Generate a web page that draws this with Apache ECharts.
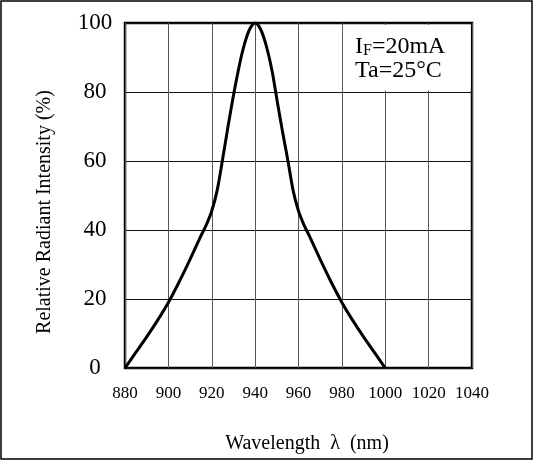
<!DOCTYPE html>
<html>
<head>
<meta charset="utf-8">
<script src="https://cdn.jsdelivr.net/npm/echarts@6/dist/echarts.min.js"></script>
<style>
    html, body { margin: 0; padding: 0; background: #fff; }
    #chart { width: 535px; height: 462px; }
</style>
</head>
<body>
<div id="chart"></div>
<script>
// 数据: 波长 (nm) 与相对辐射强度 (%)
var wavelength = [880, 885, 890, 895, 900, 905, 910, 915, 917.5, 920, 922.5, 925, 927.5, 930, 932, 934, 936, 938, 940,
    942, 944, 946, 948, 950, 952.5, 955, 957.5, 960, 962.5, 965, 970, 975, 980, 985, 990, 995, 1000];
var intensity = [0, 4.5, 9, 13.8, 19, 25, 31.5, 38.3, 41.5, 45.5, 51.5, 60.5, 70, 79, 85.5, 91.3, 95.8, 98.8, 100,
    98.8, 95.8, 91.3, 85.5, 78, 69, 60.5, 51.5, 45.5, 41.5, 38.3, 31.5, 25, 19, 13.8, 9, 4.5, 0];
var xTicks = [880, 900, 920, 940, 960, 980, 1000, 1020, 1040];
var yTicks = [0, 20, 40, 60, 80, 100];

var font = '"Liberation Serif", "Times New Roman", serif';

function renderSpectrum(id) {
    var chart = echarts.init(document.getElementById(id), null, { renderer: 'canvas' });

    var points = [];
    for (var i = 0; i < wavelength.length; i++) {
        points.push([wavelength[i], intensity[i]]);
    }

    var option = {
        animation: false,
        backgroundColor: '#fff',
        grid: {
            left: 125, top: 23, right: 63, bottom: 94,
            show: true, borderColor: '#000', borderWidth: 2.5, backgroundColor: 'transparent'
        },
        xAxis: {
            type: 'value',
            min: xTicks[0], max: xTicks[xTicks.length - 1], interval: 20,
            axisLine: { show: false },
            axisTick: { show: false },
            splitLine: { show: true, lineStyle: { color: '#555', width: 1 } },
            axisLabel: {
                color: '#000', fontFamily: font, fontSize: 17, margin: 17,
                formatter: function (v) { return String(v); }
            }
        },
        yAxis: {
            type: 'value',
            min: yTicks[0], max: yTicks[yTicks.length - 1], interval: 20,
            axisLine: { show: false },
            axisTick: { show: false },
            splitLine: { show: true, lineStyle: { color: '#111', width: 1 } },
            axisLabel: { color: '#000', fontFamily: font, fontSize: 23, margin: 30, align: 'center' }
        },
        series: [{
            type: 'line',
            data: points,
            smooth: 0.25,
            symbol: 'none',
            lineStyle: { color: '#000', width: 3 },
            // 遮住右上角的网格, 放置条件说明
            markArea: {
                silent: true,
                itemStyle: { color: '#fff', opacity: 1 },
                data: [[{ coord: [980.5, 80.4] }, { coord: [1039.4, 99.4] }]]
            },
            z: 3
        }],
        graphic: [
            {
                type: 'rect', silent: true,
                shape: { x: 1, y: 1, width: 531, height: 458 },
                style: { fill: 'none', stroke: '#000', lineWidth: 1.5 }
            },
            {
                type: 'text', x: 355, y: 47, z: 10,
                style: {
                    text: '{a|I}{b|F}{a|=20mA}',
                    rich: {
                        a: { fontFamily: font, fontSize: 24, fill: '#000' },
                        b: { fontFamily: font, fontSize: 16, fill: '#000', verticalAlign: 'bottom', padding: [5, 0, 0, 0] }
                    },
                    align: 'left', verticalAlign: 'middle'
                }
            },
            {
                type: 'text', x: 355, y: 71, z: 10,
                style: { text: 'Ta=25°C', font: '24px ' + font, fill: '#000', align: 'left', verticalAlign: 'middle' }
            },
            {
                type: 'text', x: 307, y: 444,
                style: { text: 'Wavelength  λ  (nm)', font: '20px ' + font, fill: '#000', align: 'center', verticalAlign: 'middle' }
            },
            {
                type: 'text', x: 45, y: 212, rotation: Math.PI / 2,
                style: { text: 'Relative Radiant Intensity (%)', font: '20px ' + font, fill: '#000', align: 'center', verticalAlign: 'middle' }
            }
        ]
    };

    chart.setOption(option);
    return chart;
}

renderSpectrum('chart');
</script>
</body>
</html>
